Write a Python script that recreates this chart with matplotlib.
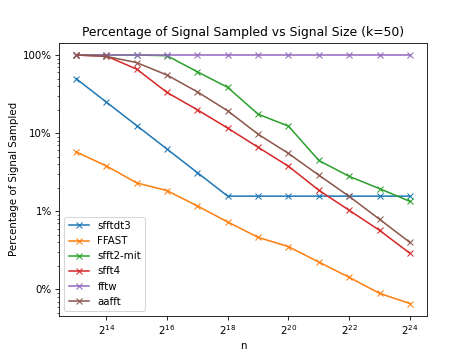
import matplotlib
matplotlib.use("Agg")
import matplotlib.pyplot as plt
from matplotlib.ticker import PercentFormatter

n_values = [2**p for p in range(13, 25)]

sfftdt3 = [0.5, 0.25, 0.125, 0.0625, 0.03125, 0.015625, 0.015625, 0.015625,
           0.015625, 0.015625, 0.015625, 0.015625]
ffast = [0.0576, 0.0381, 0.0231, 0.0184, 0.0117, 0.0073, 0.00464, 0.00353,
         0.00224, 0.00143, 0.00089, 0.00066]
sfft2_mit = [1.0, 1.0, 1.0, 0.98, 0.61, 0.385, 0.175, 0.123, 0.0447, 0.028,
             0.0195, 0.0134]
sfft4 = [1.0, 0.97, 0.66, 0.332, 0.199, 0.116, 0.066, 0.0377, 0.0186, 0.0103,
         0.0057, 0.0029]
fftw = [1.0] * 12
aafft = [1.0, 0.96, 0.80, 0.554, 0.338, 0.193, 0.097, 0.055, 0.029, 0.0155,
         0.0079, 0.0040]

series = [("sfftdt3", sfftdt3), ("FFAST", ffast), ("sfft2-mit", sfft2_mit),
          ("sfft4", sfft4), ("fftw", fftw), ("aafft", aafft)]

fig, ax = plt.subplots(figsize=(474/74, 355/74), dpi=74)
for label, vals in series:
    ax.plot(n_values, vals, marker="x", label=label)

ax.set_xscale("log", base=2)
ax.set_yscale("log")
ax.set_xticks([2**p for p in range(14, 25, 2)])
ax.yaxis.set_major_formatter(PercentFormatter(xmax=1, decimals=0))
ax.set_title("Percentage of Signal Sampled vs Signal Size (k=50)")
ax.set_xlabel("n")
ax.set_ylabel("Percentage of Signal Sampled")
ax.legend(loc="lower left")
fig.savefig("out.png", dpi=74)
